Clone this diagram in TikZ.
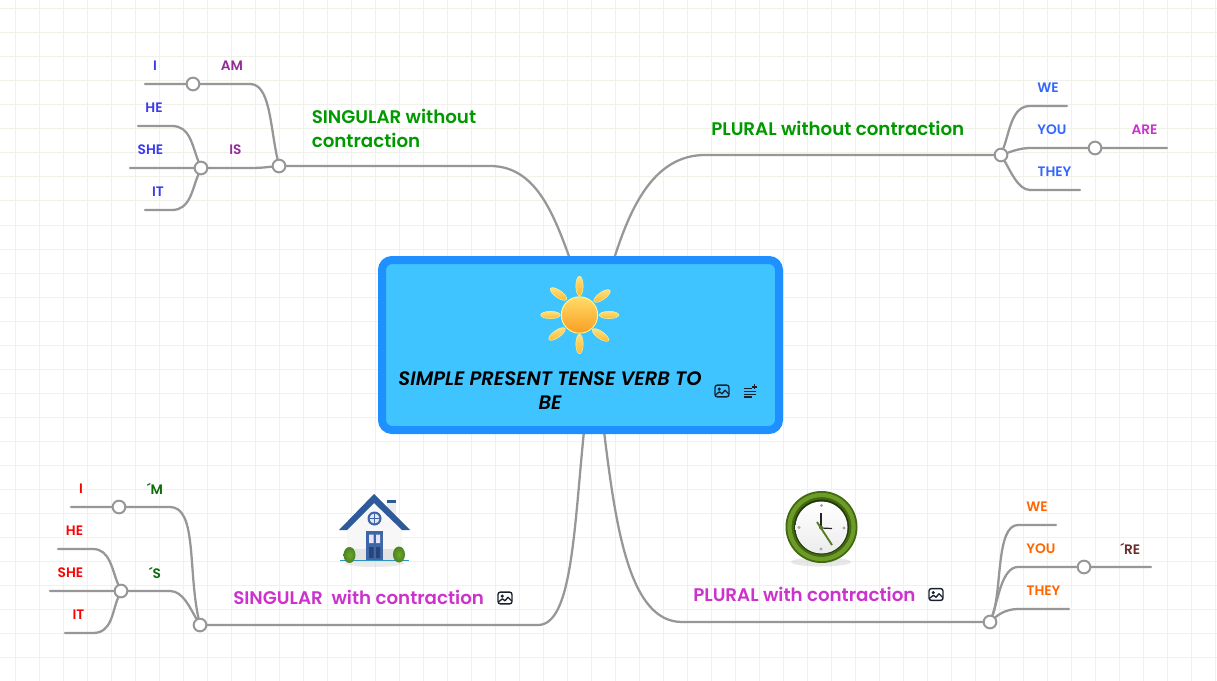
\documentclass[tikz,border=0pt]{standalone}
\usepackage{fontspec}
\setmainfont{Poppins}[BoldFont={Poppins SemiBold},BoldItalicFont={Poppins SemiBold Italic}]
\definecolor{gridc}{HTML}{F0F2EA}
\definecolor{linec}{HTML}{979797}
\definecolor{boxb}{HTML}{1E90FF}
\definecolor{boxf}{HTML}{40C4FF}
\definecolor{mainGreen}{HTML}{009900}
\definecolor{mainMag}{HTML}{CC33CC}
\definecolor{blueA}{HTML}{3A3AF0}
\definecolor{purpA}{HTML}{932D99}
\definecolor{redA}{HTML}{FF0000}
\definecolor{greenA}{HTML}{0C6B0C}
\definecolor{orangeA}{HTML}{FF6600}
\definecolor{brownA}{HTML}{6B2C2C}
\definecolor{blueB}{HTML}{3366FF}
\definecolor{iconc}{HTML}{1A2230}
\definecolor{sunT}{HTML}{FFDC6A}
\definecolor{sunB}{HTML}{FB9D20}
\definecolor{petT}{HTML}{FFE07A}
\definecolor{petB}{HTML}{FDB93A}
\definecolor{roof}{HTML}{2F5A9A}
\definecolor{door}{HTML}{3F66A5}
\definecolor{doorD}{HTML}{27457C}
\definecolor{bush}{HTML}{6FA52F}
\definecolor{bushD}{HTML}{4A8420}
\definecolor{clockD}{HTML}{3F6A10}
\definecolor{clockL}{HTML}{6E9A28}
\definecolor{clockK}{HTML}{24380A}
\pgfdeclarelayer{under}
\pgfsetlayers{under,main}
\tikzset{
  wire/.style={draw=linec,line width=1.7pt,line cap=round},
  hub/.style={circle,draw=linec,fill=white,line width=1.5pt,minimum size=9.5pt,inner sep=0pt},
  lab/.style={font=\fontsize{10.3pt}{12pt}\selectfont\bfseries,inner sep=0pt,anchor=center},
  head/.style={font=\fontsize{13.7pt}{18pt}\selectfont\bfseries,inner sep=0pt},
  petal/.style={draw=white!60!yellow,line width=0.3pt,top color=petT,bottom color=petB},
  pics/imgicon/.style={code={
    \draw[iconc,line width=1.05pt,rounded corners=1.8pt] (-7,-5.9) rectangle (7,5.9);
    \fill[iconc] (-2.8,-1.9) circle (1.7);
    \draw[iconc,line width=1pt,line join=round] (-6.7,4) -- (-2.5,0.8) -- (0,2.8) -- (3,-0.8) -- (6.7,3);
  }},
  pics/listicon/.style={code={
    \draw[iconc,line width=1.05pt] (-6.5,-2.4) -- (1.5,-2.4) (-6.5,0.4) -- (5.5,0.4) (-6.5,3.2) -- (5.5,3.2) (-6.5,6) -- (1.5,6);
    \draw[iconc,line width=1pt] (4.2,-6.6) -- (4.2,-1.6) (1.7,-4.1) -- (6.7,-4.1);
  }}
}
\begin{document}
\begin{tikzpicture}[x=0.75pt,y=-0.75pt]
\useasboundingbox (0,0) rectangle (1217,681);
% hubs
\node[hub] (h1) at (279,166) {};
\node[hub] (h2) at (1001,155) {};
\node[hub] (h3) at (200,625) {};
\node[hub] (h4) at (990,622) {};
\node[hub] (hI) at (193,84) {};
\node[hub] (hIS) at (201,168) {};
\node[hub] (hARE) at (1095,148) {};
\node[hub] (hM) at (119,507) {};
\node[hub] (hS) at (121,591) {};
\node[hub] (hRE) at (1084,567) {};
% anchors and free ends
\coordinate (tl) at (570,259);
\coordinate (tr) at (614,259);
\coordinate (bl) at (584,431);
\coordinate (br) at (604,431);
\coordinate (e1) at (145,84);
\coordinate (e2) at (138,126);
\coordinate (e3) at (130,168);
\coordinate (e4) at (145,210);
\coordinate (e5) at (71,507);
\coordinate (e6) at (58,549);
\coordinate (e7) at (50,591);
\coordinate (e8) at (65,633);
\coordinate (e9) at (1067,106);
\coordinate (e10) at (1167,148);
\coordinate (e11) at (1080,190);
\coordinate (e12) at (1056,525);
\coordinate (e13) at (1151,567);
\coordinate (e14) at (1069,609);

\begin{pgfonlayer}{under}
\fill[white] (0,0) rectangle (1217,681);
\foreach \gx in {15,39,...,1215} \draw[gridc,line width=0.75pt] (\gx,0) -- (\gx,681);
\foreach \gy in {9,33,...,680} \draw[gridc,line width=0.75pt] (0,\gy) -- (1217,\gy);
% main branches
\draw[wire] (h1) -- (490,166) .. controls (535,166) and (553,212) .. (tl);
\draw[wire] (h2) -- (705,155) .. controls (655,155) and (631,205) .. (tr);
\draw[wire] (h3) -- (538,625) .. controls (572,625) and (574,530) .. (bl);
\draw[wire] (h4) -- (682,622) .. controls (630,622) and (616,530) .. (br);
% top-left
\draw[wire] (e1) -- (hI) -- (250,84) .. controls (270,84) and (270,125) .. (h1);
\draw[wire] (e3) -- (hIS) -- (250,168) .. controls (262,168) and (268,167) .. (h1);
\draw[wire] (e2) -- (172,126) .. controls (190,126) and (192,145) .. (hIS);
\draw[wire] (e4) -- (172,210) .. controls (190,210) and (192,190) .. (hIS);
% bottom-left
\draw[wire] (e5) -- (hM) -- (170,507) .. controls (197,507) and (188,570) .. (h3);
\draw[wire] (e7) -- (hS) -- (170,591) .. controls (183,591) and (190,608) .. (h3);
\draw[wire] (e6) -- (93,549) .. controls (110,549) and (112,570) .. (hS);
\draw[wire] (e8) -- (93,633) .. controls (112,633) and (112,612) .. (hS);
% top-right
\draw[wire] (h2) .. controls (1010,130) and (1012,106) .. (1030,106) -- (e9);
\draw[wire] (h2) .. controls (1010,152) and (1020,148) .. (1030,148) -- (hARE) -- (e10);
\draw[wire] (h2) .. controls (1010,170) and (1018,190) .. (1030,190) -- (e11);
% bottom-right
\draw[wire] (h4) .. controls (1002,590) and (996,525) .. (1018,525) -- (e12);
\draw[wire] (h4) .. controls (998,600) and (1002,567) .. (1018,567) -- (hRE) -- (e13);
\draw[wire] (h4) .. controls (998,615) and (1006,609) .. (1018,609) -- (e14);
\end{pgfonlayer}

% centre box
\node[draw=boxb,fill=boxf,line width=6pt,rounded corners=7.5pt,minimum width=297.75pt,minimum height=127.5pt,inner sep=0pt] (root) at (580.5,345) {};
% sun
\foreach \a/\px/\py in {90/579.5/286,90/579.5/344,0/550.5/315,0/609/315,35/602/296,-35/558.5/294,35/557/334,-35/600.5/335}
  \shade[petal,rotate around={\a:(\px,\py)}] (\px,\py) ellipse [x radius=9.8,y radius=3.7];
\shade[top color=sunT,bottom color=sunB,draw=white!55!yellow,line width=0.7pt] (579.5,315) circle (18.2);
\node[font=\fontsize{14.6pt}{18pt}\selectfont\bfseries\itshape,align=center,inner sep=0pt] (title) at (550,391) {SIMPLE PRESENT TENSE VERB TO\\BE};
\pic at (722,391) {imgicon};
\pic at (750,391) {listicon};

% headings
\node[head,text=mainGreen,align=left,anchor=west] (sg) at (311.5,128) {SINGULAR without\\contraction};
\node[head,text=mainGreen,anchor=west] (pl) at (711,128.5) {PLURAL without contraction};
\node[head,text=mainMag,anchor=west] (sc) at (233,597.5) {SINGULAR\ \ with contraction};
\node[head,text=mainMag,anchor=west] (pc) at (693,594.5) {PLURAL with contraction};
\pic at (505,598) {imgicon};
\pic at (936,594.5) {imgicon};

% labels
\node[lab,text=blueA] (l1) at (155,65.5) {I};
\node[lab,text=purpA] (l2) at (232,65.5) {AM};
\node[lab,text=blueA] (l3) at (154,107.5) {HE};
\node[lab,text=blueA] (l4) at (150.5,149.5) {SHE};
\node[lab,text=purpA] (l5) at (235.5,149.5) {IS};
\node[lab,text=blueA] (l6) at (158,191.5) {IT};
\node[lab,text=redA] (l7) at (81,488.5) {I};
\node[lab,text=greenA] (l8) at (155,488.5) {´M};
\node[lab,text=redA] (l9) at (74.5,530.5) {HE};
\node[lab,text=redA] (l10) at (70.5,572.5) {SHE};
\node[lab,text=greenA] (l11) at (155,572.5) {´S};
\node[lab,text=redA] (l12) at (78.5,614.5) {IT};
\node[lab,text=blueB] (l13) at (1048,87.5) {WE};
\node[lab,text=blueB] (l14) at (1052,129.5) {YOU};
\node[lab,text=blueB] (l15) at (1054.5,171.5) {THEY};
\node[lab,text=mainMag] (l16) at (1144.5,129.5) {ARE};
\node[lab,text=orangeA] (l17) at (1037,506.5) {WE};
\node[lab,text=orangeA] (l18) at (1041,548.5) {YOU};
\node[lab,text=orangeA] (l19) at (1043.5,590.5) {THEY};
\node[lab,text=brownA] (l20) at (1130.5,548.5) {´RE};

% house
\fill[gray!45,opacity=0.35] (374.5,563) ellipse [x radius=30,y radius=4];
\fill[white!94!gray] (347,528) -- (374,503) -- (402,528) -- (402,560) -- (347,560) -- cycle;
\fill[gray!22] (347,549) rectangle (402,560);
\fill[white!85!gray] (387,500) rectangle (396,515);
\fill[roof] (387,499.5) rectangle (396,503);
\fill[roof] (339,530) -- (374,494) -- (410,530) -- (402,530) -- (374,503) -- (347,530) -- cycle;
\fill[door] (374.5,518.5) circle (7);
\fill[white!90!blue] (374.5,518.5) circle (5);
\draw[door,line width=1.2pt] (374.5,512) -- (374.5,525) (368,518.5) -- (381,518.5);
\fill[door] (366,531) rectangle (383,561);
\fill[white!90!blue] (369,534.5) rectangle (373.5,543) (376,534.5) rectangle (380,543);
\fill[doorD] (369,547) rectangle (373.5,558) (376,547) rectangle (380,558);
\draw[door!70!cyan,line width=0.8pt] (340,560.5) -- (409,560.5);
\shade[inner color=bush,outer color=bushD] (349.5,555) ellipse [x radius=6,y radius=8];
\shade[inner color=bush,outer color=bushD] (399,554.5) ellipse [x radius=6,y radius=8];

% clock
\fill[gray!50,opacity=0.35] (821,562) ellipse [x radius=30,y radius=4.5];
\fill[clockD] (821.5,527) circle (36);
\draw[clockL,line width=3.2pt] (821.5,527) circle (32);
\fill[clockK] (821.5,527) circle (27.5);
\shade[top color=white,bottom color=gray!15] (821.5,527.5) circle (26);
\fill[gray!70] (821.5,505.5) circle (1.7) (799,527.5) circle (1.7) (844,528) circle (1.7) (821,549) circle (1.7);
\draw[black!85,line width=0.9pt] (821,527.5) -- (821,512.5);
\draw[black!85,line width=0.9pt] (821,528) -- (832,528.5);
\draw[clockL!80!black,line width=1.4pt] (817,522) -- (832,545);
\fill[clockL!80!black] (821,527.5) circle (2);
\end{tikzpicture}
\end{document}
